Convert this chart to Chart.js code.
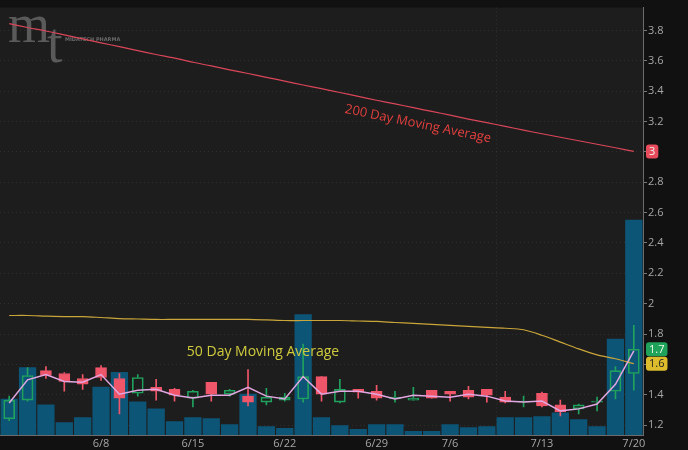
<!DOCTYPE html>
<html>
<head>
<meta charset="utf-8">
<script src="https://cdn.jsdelivr.net/npm/chart.js@4"></script>
<style>
  html, body { margin: 0; padding: 0; background: #111111; }
  #wrap { width: 688px; height: 450px; position: relative; }
</style>
</head>
<body>
<div id="wrap"><canvas id="chart"></canvas></div>
<script>
// trading days shown (2020)
const DATES = ["6/1","6/2","6/3","6/4","6/5","6/8","6/9","6/10","6/11","6/12",
  "6/15","6/16","6/17","6/18","6/19","6/22","6/23","6/24","6/25","6/26",
  "6/29","6/30","7/1","7/2","7/6","7/7","7/8","7/9","7/10",
  "7/13","7/14","7/15","7/16","7/17","7/20"];
const WEEK_TICKS = ["6/8","6/15","6/22","6/29","7/6","7/13","7/20"];

const OPEN  = [1.242,1.365,1.559,1.540,1.507,1.579,1.507,1.410,1.449,1.436,1.378,1.482,1.404,1.391,1.352,1.365,1.372,1.520,1.352,1.436,1.423,1.372,1.365,1.430,1.423,1.430,1.436,1.384,1.352,1.410,1.333,1.307,1.352,1.423,1.540];
const HIGH  = [1.391,1.579,1.585,1.546,1.533,1.592,1.540,1.533,1.501,1.443,1.430,1.482,1.436,1.566,1.443,1.410,1.734,1.520,1.501,1.436,1.462,1.423,1.449,1.430,1.423,1.456,1.436,1.423,1.391,1.417,1.365,1.339,1.385,1.585,1.857];
const LOW   = [1.229,1.358,1.507,1.423,1.436,1.494,1.274,1.391,1.365,1.358,1.320,1.358,1.391,1.326,1.333,1.358,1.352,1.358,1.346,1.378,1.365,1.352,1.365,1.378,1.358,1.372,1.352,1.346,1.320,1.320,1.261,1.274,1.294,1.372,1.430];
const CLOSE = [1.365,1.527,1.527,1.488,1.469,1.514,1.378,1.514,1.423,1.397,1.423,1.404,1.430,1.352,1.384,1.384,1.520,1.404,1.436,1.417,1.378,1.384,1.378,1.378,1.404,1.384,1.397,1.352,1.359,1.326,1.287,1.333,1.359,1.559,1.700];

// short average drawn through the candles
const FAST_AVG = [1.346,1.498,1.533,1.488,1.482,1.533,1.404,1.430,1.436,1.397,1.378,1.397,1.397,1.449,1.391,1.372,1.520,1.404,1.423,1.423,1.404,1.372,1.397,1.391,1.384,1.404,1.391,1.359,1.352,1.359,1.294,1.307,1.339,1.469,1.689];
const MA50  = [1.922,1.922,1.918,1.915,1.915,1.909,1.902,1.899,1.896,1.896,1.896,1.896,1.896,1.896,1.893,1.889,1.889,1.889,1.889,1.886,1.883,1.876,1.870,1.863,1.857,1.850,1.844,1.838,1.828,1.792,1.747,1.702,1.663,1.637,1.605];
const MA200 = [3.844,3.819,3.796,3.770,3.744,3.718,3.693,3.667,3.641,3.617,3.590,3.566,3.540,3.516,3.491,3.466,3.440,3.416,3.391,3.365,3.340,3.316,3.291,3.266,3.242,3.216,3.192,3.168,3.143,3.119,3.096,3.073,3.050,3.027,3.003];

// volume, millions of shares
const VOLUME = [1.85,3.45,1.55,0.65,0.9,2.45,3.2,1.7,1.35,0.7,0.9,0.85,0.55,2.1,0.45,0.35,6.15,0.9,0.5,0.3,0.55,0.55,0.2,0.2,0.55,0.4,0.45,0.9,0.9,0.95,1.15,0.8,0.45,4.9,10.95];

const PRICE_TICKS = [1.2,1.4,1.6,1.8,2,2.2,2.4,2.6,2.8,3,3.2,3.4,3.6,3.8];
const PRICE_TICK_LABELS = ["1.2","1.4","1.6","1.8","2","2.2","2.4","2.6","2.8","3","3.2","3.4","3.6","3.8"];

const UP = "#21a15e";
const DOWN = "#f0566a";
const GRID = "rgba(255,255,255,0.08)";

const isUp = CLOSE.map((c, i) => c >= OPEN[i]);
const candleColor = isUp.map(u => (u ? UP : DOWN));

const bgPlugin = {
  id: "bg",
  beforeDraw(chart) {
    const { ctx, chartArea: a } = chart;
    ctx.save();
    ctx.fillStyle = "#111111";
    ctx.fillRect(0, 0, chart.width, chart.height);
    ctx.fillStyle = "#1d1d1d";
    ctx.fillRect(a.left, a.top, a.right - a.left, a.bottom - a.top);
    ctx.restore();
  },
  beforeDatasetsDraw(chart) {
    // company logo watermark
    const ctx = chart.ctx;
    ctx.save();
    ctx.fillStyle = "#5a5a5a";
    ctx.font = "54px 'Liberation Serif'";
    ctx.textBaseline = "alphabetic";
    ctx.fillText("m", 8, 42);
    ctx.font = "56px 'Liberation Serif'";
    ctx.fillText("t", 47, 62);
    ctx.font = "bold 5px 'DejaVu Sans'";
    ctx.fillStyle = "#6a6a6a";
    ctx.fillText("MIDATECH PHARMA", 65, 41);
    ctx.restore();
  },
  afterDraw(chart) {
    const { ctx } = chart;
    const y = chart.scales.y;
    ctx.save();
    // annotations
    ctx.font = "13px 'Open Sans'";
    ctx.fillStyle = "#e2403f";
    ctx.textAlign = "center";
    ctx.textBaseline = "middle";
    ctx.translate(418, 124);
    ctx.rotate(11.5 * Math.PI / 180);
    ctx.fillText("200 Day Moving Average", 0, 0);
    ctx.setTransform(1, 0, 0, 1, 0, 0);
    ctx.font = "14px 'Open Sans'";
    ctx.fillStyle = "#cfcb3e";
    ctx.fillText("50 Day Moving Average", 263, 352);

    // last-value boxes on the price axis
    const boxes = [
      { v: MA200[MA200.length - 1], t: "3", bg: "#e84c5c", fg: "#f4f4f4" },
      { v: CLOSE[CLOSE.length - 1], t: "1.7", bg: "#1fa35b", fg: "#eefcee" },
      { v: MA50[MA50.length - 1], t: "1.6", bg: "#dcbb2c", fg: "#222222" }
    ];
    ctx.font = "11px 'Open Sans'";
    ctx.textAlign = "left";
    boxes.forEach(b => {
      const py = y.getPixelForValue(b.v);
      const w = ctx.measureText(b.t).width + 6;
      ctx.fillStyle = b.bg;
      ctx.beginPath();
      ctx.roundRect(646, py - 7, w, 14, 3);
      ctx.fill();
      ctx.fillStyle = b.fg;
      ctx.fillText(b.t, 649, py + 0.5);
    });
    ctx.restore();
  }
};

const ctx = document.getElementById("chart").getContext("2d");
new Chart(ctx, {
  type: "bar",
  data: {
    labels: DATES,
    datasets: [
      {
        type: "line",
        data: FAST_AVG,
        borderColor: "#e2a6e0",
        borderWidth: 1.5,
        pointRadius: 0,
        tension: 0,
        yAxisID: "y",
        order: 1
      },
      {
        type: "line",
        data: MA50,
        borderColor: "#c9a53a",
        borderWidth: 1.2,
        pointRadius: 0,
        tension: 0.3,
        yAxisID: "y",
        order: 2
      },
      {
        type: "line",
        data: MA200,
        borderColor: "#d9465a",
        borderWidth: 1.2,
        pointRadius: 0,
        tension: 0.3,
        yAxisID: "y",
        order: 2
      },
      {
        // candle bodies
        data: OPEN.map((o, i) => [o, CLOSE[i]]),
        backgroundColor: isUp.map(u => (u ? "rgba(0,0,0,0)" : DOWN)),
        borderColor: candleColor,
        borderWidth: 1,
        borderSkipped: false,
        barThickness: 11,
        grouped: false,
        yAxisID: "y",
        order: 3
      },
      {
        // upper wicks
        data: HIGH.map((h, i) => [Math.max(OPEN[i], CLOSE[i]), h]),
        backgroundColor: candleColor,
        barThickness: 1,
        grouped: false,
        yAxisID: "y",
        order: 4
      },
      {
        // lower wicks
        data: LOW.map((l, i) => [l, Math.min(OPEN[i], CLOSE[i])]),
        backgroundColor: candleColor,
        barThickness: 1,
        grouped: false,
        yAxisID: "y",
        order: 4
      },
      {
        data: VOLUME,
        backgroundColor: "#0d5577",
        categoryPercentage: 1,
        barPercentage: 0.94,
        grouped: false,
        yAxisID: "vol",
        order: 10
      }
    ]
  },
  options: {
    responsive: true,
    maintainAspectRatio: false,
    animation: false,
    layout: { padding: 0 },
    plugins: {
      legend: { display: false },
      tooltip: { enabled: false }
    },
    scales: {
      x: {
        offset: true,
        grid: {
          offset: true,
          drawTicks: false,
          color: c => (WEEK_TICKS.includes(DATES[c.index]) ? GRID : "rgba(0,0,0,0)")
        },
        border: { color: "#6c6c6c", dash: [1, 3] },
        ticks: {
          autoSkip: false,
          maxRotation: 0,
          padding: 2,
          color: "#a6a6a6",
          font: { family: "Open Sans", size: 11 },
          callback: (v, i) => (WEEK_TICKS.includes(DATES[i]) ? DATES[i] : null)
        },
        afterFit: s => { s.height = 15; }
      },
      y: {
        position: "right",
        min: 1.135,
        max: 3.95,
        afterBuildTicks: s => { s.ticks = PRICE_TICKS.map(v => ({ value: v })); },
        grid: { color: GRID, tickColor: "#777777", tickLength: 4, tickBorderDash: [] },
        border: { color: "#6c6c6c", dash: [1, 3] },
        ticks: {
          padding: 1,
          color: "#a6a6a6",
          font: { family: "Open Sans", size: 11 },
          callback: (v, i) => PRICE_TICK_LABELS[i]
        },
        afterFit: s => { s.width = 45; }
      },
      vol: {
        display: false,
        min: 0,
        max: 21.75
      }
    }
  },
  plugins: [bgPlugin]
});
</script>
</body>
</html>
